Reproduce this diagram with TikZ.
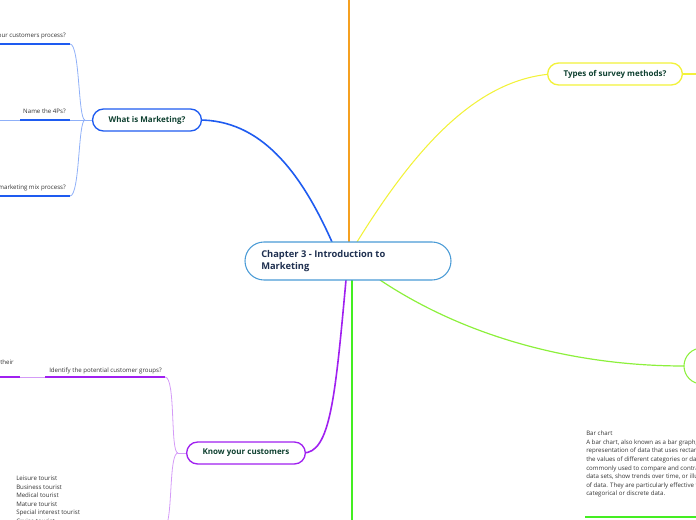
\documentclass[tikz,border=0pt]{standalone}
\usepackage{fontspec}
\setmainfont{Open Sans}
\definecolor{cblue}{HTML}{1E5BF0}
\definecolor{lblue}{HTML}{8FB0F8}
\definecolor{cpurp}{HTML}{A020F0}
\definecolor{lpurp}{HTML}{D49BF7}
\definecolor{cyel}{HTML}{F2F23A}
\definecolor{cgreen}{HTML}{44EE22}
\definecolor{lgreen}{HTML}{8CF03C}
\definecolor{corange}{HTML}{F5A020}
\definecolor{cborder}{HTML}{4A9BD6}
\definecolor{ttext}{HTML}{1F3050}
\definecolor{ntext}{HTML}{0E4030}
\tikzset{
 topic/.style={draw,line width=1pt,rounded corners=11*0.75pt,minimum height=22*0.75pt,fill=white,font=\fontsize{6}{7}\selectfont\bfseries,text=ntext,inner xsep=12pt},
 small/.style={font=\fontsize{4.6}{6.4}\selectfont,text=black!80,inner sep=0pt},
}
\begin{document}
\begin{tikzpicture}[x=0.75pt,y=-0.75pt]
\useasboundingbox (0,0) rectangle (696,520);
\begin{scope}
\clip (0,0) rectangle (696,520);
% main connectors
\coordinate (o1) at (349,0);
\draw[corange,line width=1.2pt] (o1) -- (349,242);
\draw[cgreen,line width=1.2pt] (352,280) -- (352,520);
\draw[cyel,line width=0.8pt] (357,242) .. controls (420,140) and (480,80) .. (551,74);
\draw[cyel,line width=0.8pt] (679,74) -- (696,74);
\draw[cblue,line width=1.2pt] (332,242) .. controls (300,170) and (260,120) .. (199,120);
\draw[cpurp,line width=1.2pt] (346,280) .. controls (335,400) and (330,453) .. (303,453);
\draw[lgreen,line width=0.9pt] (380,280) .. controls (470,340) and (580,366) .. (684,366);
\node[draw=lgreen,line width=0.8pt,circle,minimum size=36*0.75pt] (circ) at (702,366) {};

% central
\node[draw=cborder,line width=0.8pt,rounded corners=19*0.75pt,minimum width=206*0.75pt,minimum height=38*0.75pt,fill=white] (c) at (348,261) {};
\node[anchor=west,align=left,font=\fontsize{7}{9.6}\selectfont\bfseries,text=ttext,inner sep=0pt] (ct) at (261,261) {Chapter 3 - Introduction to\\Marketing};

% topics
\node[topic,draw=cyel] (sv) at (615,74) {Types of survey methods?};
\node[topic,draw=cblue] (wm) at (147,120) {What is Marketing?};
\node[topic,draw=cpurp] (kc) at (246,453) {Know your customers};

% marketing branches
\coordinate (wb) at (85,120);
\draw[lblue,line width=0.6pt] (wm.west) -- (wb);
\draw[lblue,line width=0.6pt] (wb) .. controls (78,120) and (80,44) .. (70,44);
\draw[lblue,line width=0.6pt] (wb) .. controls (78,120) and (80,196) .. (70,196);
\draw[lblue,line width=0.6pt] (wb) -- (70,120);
\draw[cblue,line width=1.2pt] (0,44) -- (70,44);
\draw[cblue,line width=1.2pt] (20,120) -- (70,120);
\draw[lblue,line width=0.6pt] (0,120) -- (20,120);
\draw[cblue,line width=1.2pt] (0,196) -- (70,196);
\node[small,anchor=base east] (t1) at (66,38) {our customers process?};
\node[small,anchor=base east] (t2) at (66,114) {Name the 4Ps?};
\node[small,anchor=base east] (t3) at (66,190) {marketing mix process?};

% customers branches
\coordinate (kb) at (178,453);
\draw[lpurp,line width=0.6pt] (kc.west) -- (kb);
\draw[lpurp,line width=0.6pt] (kb) .. controls (170,453) and (176,377) .. (165,377);
\draw[lpurp,line width=0.6pt] (kb) .. controls (170,453) and (172,500) .. (168,520);
\draw[cpurp,line width=1.2pt] (45,377) -- (165,377);
\draw[lpurp,line width=0.6pt] (20,377) -- (45,377);
\draw[cpurp,line width=1.2pt] (0,377) -- (20,377);
\node[small,anchor=base west] (t4) at (49,372) {Identify the potential customer groups?};
\node[small,anchor=base west] (t5) at (0,364) {their};
\node[small,anchor=north west,align=left] (t6) at (16,476) {Leisure tourist\\Business tourist\\Medical tourist\\Mature tourist\\Special interest tourist\\Cruise tourist};

% bar chart
\node[small,anchor=north west,align=left] (bc) at (586,431) {Bar chart\\A bar chart, also known as a bar graph, is a visual\\representation of data that uses rectangular bars to show\\the values of different categories or data points. It is\\commonly used to compare and contrast different\\data sets, show trends over time, or illustrate distributions\\of data. They are particularly effective for displaying\\categorical or discrete data.};
\draw[cgreen,line width=1.4pt] (585,517) -- (696,517);
\end{scope}
\end{tikzpicture}
\end{document}
